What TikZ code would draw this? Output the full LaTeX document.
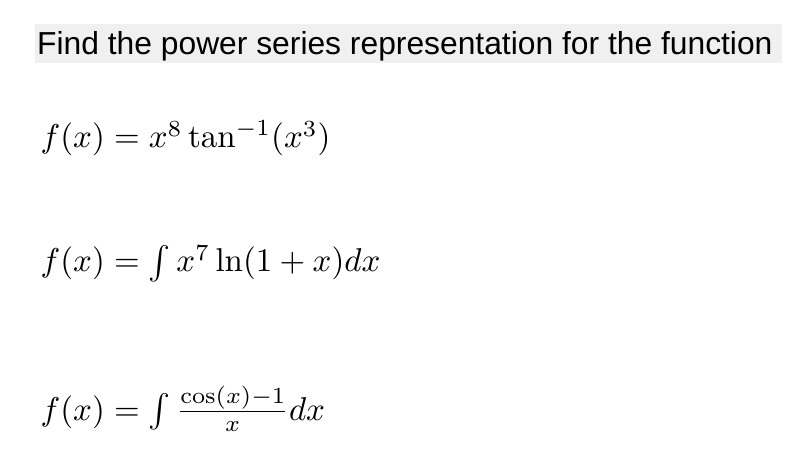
\documentclass[tikz,border=0pt]{standalone}
\usepackage{fontspec}
\newfontfamily\arial{Liberation Sans}
\begin{document}
\begin{tikzpicture}[x=1pt,y=-1pt,
  eq/.style={anchor=base west,inner sep=0pt,scale=3.3,transform shape}]
\useasboundingbox (0,0) rectangle (788,468);
\fill[gray!12] (35,24) rectangle (782,63);
\node[anchor=base west,inner sep=0pt,font=\arial\fontsize{31.8}{36}\selectfont] (t) at (37,55) {Find the power series representation for the function};
\begin{scope}[shift={(40,148)}]
\node[eq] (e1) at (0,0) {$f(x)=x^8\tan^{-1}(x^3)$};
\end{scope}
\begin{scope}[shift={(40,272)}]
\node[eq] (e2) at (0,0) {$f(x)=\int x^7\ln(1+x)dx$};
\end{scope}
\begin{scope}[shift={(40,420)}]
\node[eq] (e3) at (0,0) {$f(x)=\int \frac{\cos(x)-1}{x}dx$};
\end{scope}
\end{tikzpicture}
\end{document}
